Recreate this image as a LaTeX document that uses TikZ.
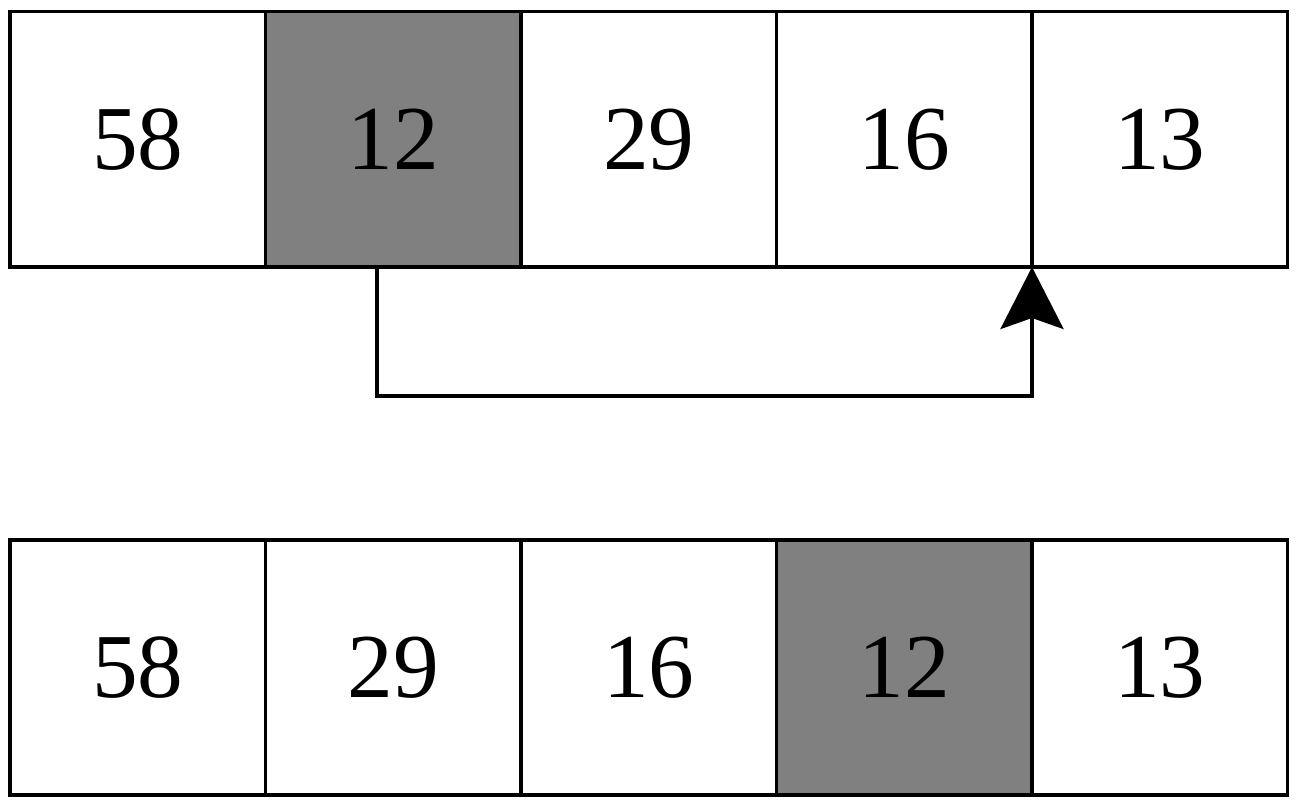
\documentclass[tikz,border=0pt]{standalone}
\usepackage{fontspec}
\setmainfont{Liberation Serif}
\usetikzlibrary{positioning,arrows.meta}
\tikzset{
cell/.style={draw, line width=2.2pt, minimum size=5.11cm, inner sep=0pt, outer sep=0pt, font=\fontsize{52}{60}\selectfont},
moved/.style={fill=gray}
}
\begin{document}
\begin{tikzpicture}
\useasboundingbox (0,0) rectangle (25.98,16.16);
\foreach \v [count=\i] in {58,12,29,16,13}{
\ifnum\i=2
\node[cell, moved] (t\i) at ({2.755+5.11*(\i-1)},13.375) {\v};
\else
\node[cell] (t\i) at ({2.755+5.11*(\i-1)},13.375) {\v};
\fi
}
\foreach \v [count=\i] in {58,29,16,12,13}{
\ifnum\i=4
\node[cell, moved] (b\i) at ({2.755+5.11*(\i-1)},2.81) {\v};
\else
\node[cell] (b\i) at ({2.755+5.11*(\i-1)},2.81) {\v};
\fi
}
\coordinate (from) at ([xshift=-0.32cm]t2.south);
\coordinate (turn) at ([yshift=-2.58cm]from);
\draw[line width=2.2pt, -{Stealth[length=1.24cm, width=1.26cm, inset=0.22cm]}] (from) -- (turn) -| (t4.south east);
\end{tikzpicture}
\end{document}
